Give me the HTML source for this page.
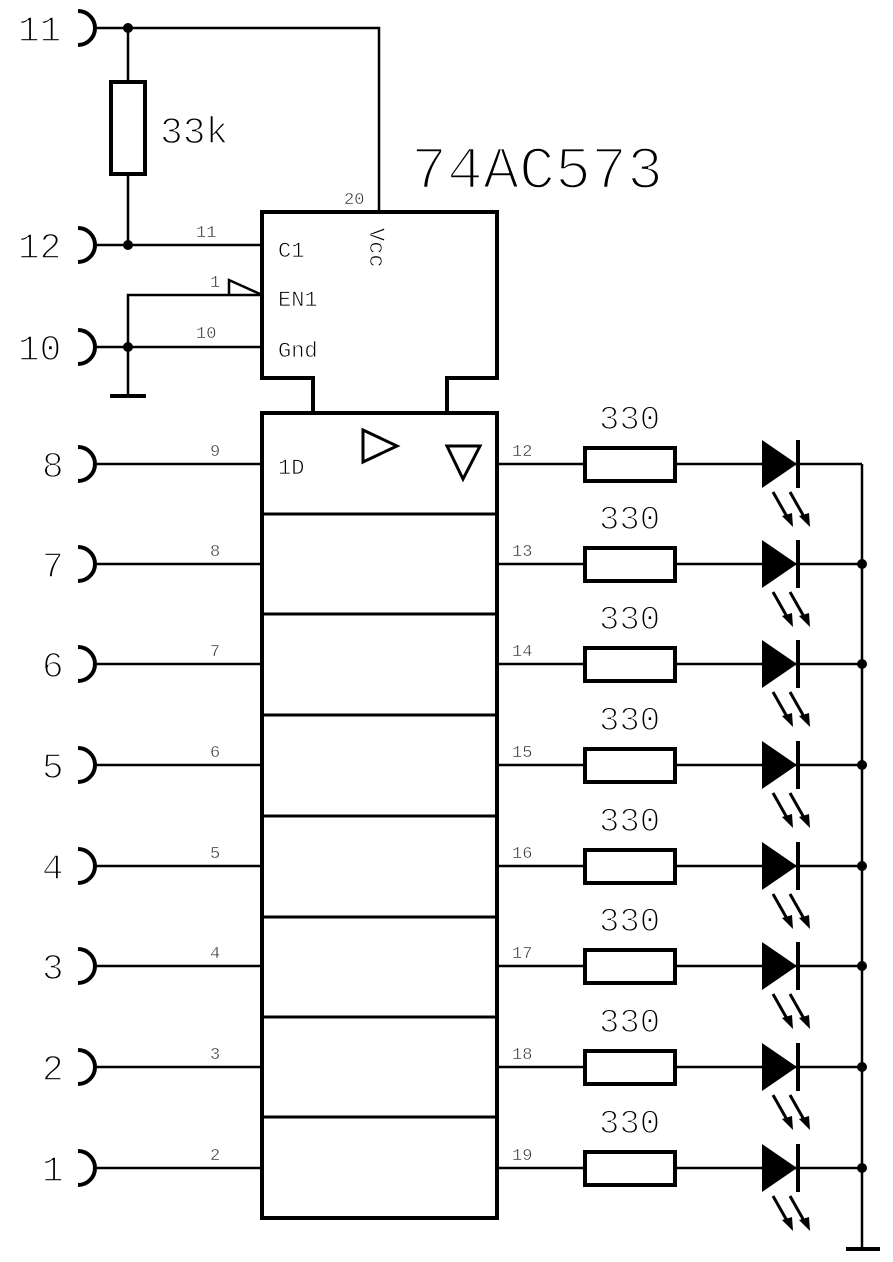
<!DOCTYPE html>
<html><head><meta charset="utf-8"><style>
html,body{margin:0;padding:0;background:#fff}
svg{display:block}
text{font-family:"Liberation Mono",monospace;fill:#000;stroke:#fff}
.pn{font-size:17px;fill:#333;stroke-width:0.4}
.in{font-size:36px;stroke-width:1.4}
.r{font-size:34px;stroke-width:1.4}
.lb{font-size:22px;stroke-width:0.7}
</style></head><body>
<svg width="893" height="1262" viewBox="0 0 893 1262" xmlns="http://www.w3.org/2000/svg">
<defs>
<g id="out">
 <line x1="497" y1="0" x2="585" y2="0" stroke="#000" stroke-width="2.5"/>
 <rect x="585" y="-16" width="90" height="33" fill="#fff" stroke="#000" stroke-width="4"/>
 <line x1="675" y1="0" x2="862" y2="0" stroke="#000" stroke-width="2.5"/>
 <polygon points="762,-24 762,24 797,0" fill="#000"/>
 <line x1="798" y1="-24" x2="798" y2="24" stroke="#000" stroke-width="4"/>
 <g stroke="#000" stroke-width="3" fill="none">
  <line x1="773" y1="28" x2="790" y2="58"/><line x1="790" y1="28" x2="807" y2="58"/>
 </g>
 <polygon points="793,63 782,52 792,49" fill="#000"/>
 <polygon points="810,63 799,52 809,49" fill="#000"/>
</g>
<g id="inp">
 <path d="M78,-17 A17,17 0 0 1 78,17" fill="none" stroke="#000" stroke-width="4"/>
 <line x1="96" y1="0" x2="262" y2="0" stroke="#000" stroke-width="2.5"/>
</g>
</defs>

<g stroke="#000" fill="none">
 <path d="M78,11 A17,17 0 0 1 78,45" stroke-width="4"/>
 <path d="M78,228 A17,17 0 0 1 78,262" stroke-width="4"/>
 <path d="M78,330 A17,17 0 0 1 78,364" stroke-width="4"/>
 <polyline points="96,28 379,28 379,212" stroke-width="2.5"/>
 <line x1="128" y1="28" x2="128" y2="82" stroke-width="2.5"/>
 <rect x="111" y="82" width="34" height="92" stroke-width="4"/>
 <line x1="128" y1="174" x2="128" y2="245" stroke-width="2.5"/>
 <line x1="96" y1="245" x2="262" y2="245" stroke-width="2.5"/>
 <polyline points="128,396 128,295 262,295" stroke-width="2.5"/>
 <polyline points="229,295 229,280 260,294" stroke-width="2.5"/>
 <line x1="96" y1="347" x2="262" y2="347" stroke-width="2.5"/>
 <line x1="110" y1="396" x2="146" y2="396" stroke-width="4"/>
 <polygon points="262,212 497,212 497,378 447,378 447,413 313,413 313,378 262,378" stroke-width="4"/>
 <rect x="262" y="413" width="235" height="805" stroke-width="4"/>
 <g stroke-width="3">
 <line x1="262" y1="514" x2="497" y2="514"/><line x1="262" y1="614" x2="497" y2="614"/>
 <line x1="262" y1="715" x2="497" y2="715"/><line x1="262" y1="816" x2="497" y2="816"/>
 <line x1="262" y1="917" x2="497" y2="917"/><line x1="262" y1="1017" x2="497" y2="1017"/>
 <line x1="262" y1="1117" x2="497" y2="1117"/>
 </g>
 <polygon points="363,430 397,446 363,462" stroke-width="3"/>
 <polygon points="447,446 480,446 463,479" stroke-width="3"/>
 <line x1="862" y1="464" x2="862" y2="1248" stroke-width="2.5"/>
 <line x1="846" y1="1249" x2="880" y2="1249" stroke-width="4"/>
</g>
<g fill="#000">
 <circle cx="128" cy="28" r="5"/><circle cx="128" cy="245" r="5"/><circle cx="128" cy="347" r="5"/>
 <circle cx="862" cy="564" r="5"/><circle cx="862" cy="664" r="5"/><circle cx="862" cy="765" r="5"/>
 <circle cx="862" cy="866" r="5"/><circle cx="862" cy="966" r="5"/><circle cx="862" cy="1067" r="5"/>
 <circle cx="862" cy="1168" r="5"/>
</g>
<text x="18" y="41" class="in">11</text>
<text x="18" y="258" class="in">12</text>
<text x="18" y="360" class="in">10</text>
<text x="160" y="143" style="font-size:38px;stroke-width:1.4">33k</text>
<text x="411" y="188" style="font-size:60px;stroke-width:2.4">74AC573</text>
<text x="344" y="204" class="pn">20</text>
<text x="196" y="237" class="pn">11</text>
<text x="210" y="287" class="pn">1</text>
<text x="196" y="338" class="pn">10</text>
<text x="278" y="257" class="lb">C1</text>
<text x="278" y="306" class="lb">EN1</text>
<text x="278" y="357" class="lb">Gnd</text>
<text x="0" y="0" class="lb" transform="translate(370,228) rotate(90)">Vcc</text>
<text x="278" y="474" class="lb">1D</text>

<use href="#inp" y="464"/><use href="#inp" y="564"/><use href="#inp" y="664"/><use href="#inp" y="765"/>
<use href="#inp" y="866"/><use href="#inp" y="966"/><use href="#inp" y="1067"/><use href="#inp" y="1168"/>
<use href="#out" y="464"/><use href="#out" y="564"/><use href="#out" y="664"/><use href="#out" y="765"/>
<use href="#out" y="866"/><use href="#out" y="966"/><use href="#out" y="1067"/><use href="#out" y="1168"/>

<text x="42" y="477" class="in">8</text><text x="42" y="577" class="in">7</text>
<text x="42" y="677" class="in">6</text><text x="42" y="778" class="in">5</text>
<text x="42" y="879" class="in">4</text><text x="42" y="979" class="in">3</text>
<text x="42" y="1080" class="in">2</text><text x="42" y="1181" class="in">1</text>

<text x="210" y="456" class="pn">9</text><text x="210" y="556" class="pn">8</text>
<text x="210" y="656" class="pn">7</text><text x="210" y="757" class="pn">6</text>
<text x="210" y="858" class="pn">5</text><text x="210" y="958" class="pn">4</text>
<text x="210" y="1059" class="pn">3</text><text x="210" y="1160" class="pn">2</text>

<text x="512" y="456" class="pn">12</text><text x="512" y="556" class="pn">13</text>
<text x="512" y="656" class="pn">14</text><text x="512" y="757" class="pn">15</text>
<text x="512" y="858" class="pn">16</text><text x="512" y="958" class="pn">17</text>
<text x="512" y="1059" class="pn">18</text><text x="512" y="1160" class="pn">19</text>

<text x="599" y="429" class="r">330</text><text x="599" y="529" class="r">330</text>
<text x="599" y="629" class="r">330</text><text x="599" y="730" class="r">330</text>
<text x="599" y="831" class="r">330</text><text x="599" y="931" class="r">330</text>
<text x="599" y="1032" class="r">330</text><text x="599" y="1133" class="r">330</text>
</svg>
</body></html>
